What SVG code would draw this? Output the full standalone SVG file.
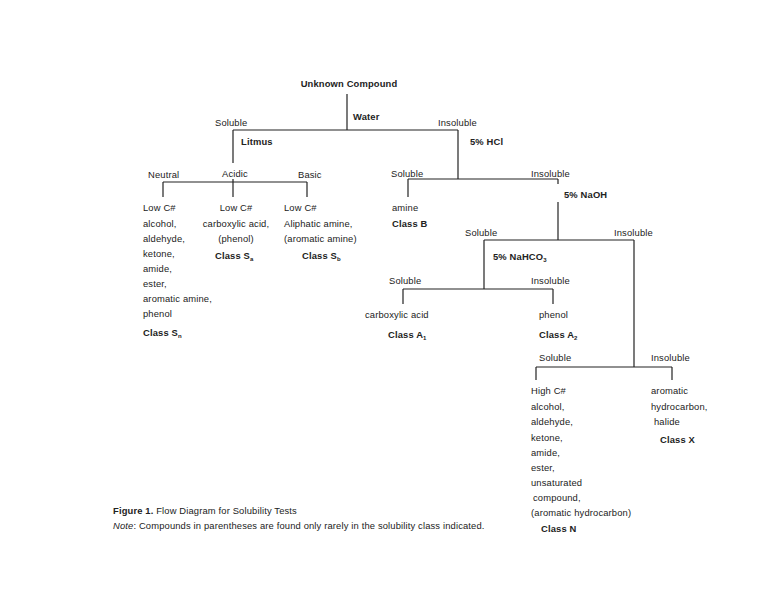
<svg xmlns="http://www.w3.org/2000/svg" width="768" height="594" viewBox="0 0 768 594">
<style>
text{font-family:"Liberation Sans",Arial,sans-serif;font-size:9.4px;fill:#222;letter-spacing:0.15px}
.b{font-weight:bold}
.c{text-anchor:middle}
line{stroke:#222;stroke-width:1.2}
</style>
<rect width="768" height="594" fill="#fff"/>
<g id="connectors">
<line x1="347" y1="94" x2="347" y2="130"/>
<line x1="233" y1="130" x2="458" y2="130"/>
<line x1="233" y1="130" x2="233" y2="163"/>
<line x1="233" y1="179" x2="233" y2="197"/>
<line x1="163" y1="182" x2="307" y2="182"/>
<line x1="163" y1="182" x2="163" y2="197"/>
<line x1="307" y1="182" x2="307" y2="197"/>
<line x1="458" y1="130" x2="458" y2="179"/>
<line x1="408" y1="179" x2="558" y2="179"/>
<line x1="408" y1="179" x2="408" y2="197"/>
<line x1="558" y1="179" x2="558" y2="184"/>
<line x1="558" y1="202" x2="558" y2="240"/>
<line x1="484" y1="240" x2="634" y2="240"/>
<line x1="484" y1="240" x2="484" y2="289"/>
<line x1="403" y1="289" x2="553" y2="289"/>
<line x1="403" y1="289" x2="403" y2="304"/>
<line x1="553" y1="289" x2="553" y2="304"/>
<line x1="634" y1="240" x2="634" y2="367"/>
<line x1="536" y1="367" x2="672" y2="367"/>
<line x1="536" y1="367" x2="536" y2="380"/>
<line x1="672" y1="367" x2="672" y2="380"/>
</g>
<g id="root"><text class="b c" x="349" y="87">Unknown Compound</text></g>
<g id="labels">
<text class="b" x="353" y="120">Water</text>
<text x="215" y="126">Soluble</text>
<text x="438" y="126">Insoluble</text>
<text class="b" x="241" y="145">Litmus</text>
<text class="b" x="470" y="145">5% HCl</text>
<text x="148" y="178">Neutral</text>
<text x="222" y="177">Acidic</text>
<text x="298" y="178">Basic</text>
<text x="391" y="177">Soluble</text>
<text x="531" y="177">Insoluble</text>
<text class="b" x="564" y="198">5% NaOH</text>
<text x="465" y="236">Soluble</text>
<text x="614" y="236">Insoluble</text>
<text class="b" x="493" y="260">5% NaHCO<tspan font-size="6" dy="2">3</tspan></text>
<text x="389" y="284">Soluble</text>
<text x="531" y="284">Insoluble</text>
<text x="539" y="361">Soluble</text>
<text x="651" y="361">Insoluble</text>
</g>
<g id="class-sn">
<text x="143" y="211">Low C#</text><text x="143" y="227">alcohol,</text><text x="143" y="242">aldehyde,</text><text x="143" y="257">ketone,</text><text x="143" y="272">amide,</text><text x="143" y="287">ester,</text><text x="143" y="302">aromatic amine,</text><text x="143" y="317">phenol</text>
<text class="b" x="143" y="336">Class S<tspan font-size="6" dy="2">n</tspan></text>
</g>
<g id="class-sa">
<text class="c" x="236" y="211">Low C#</text><text class="c" x="236" y="227">carboxylic acid,</text><text class="c" x="236" y="242">(phenol)</text>
<text class="b" x="215" y="259">Class S<tspan font-size="6" dy="2">a</tspan></text>
</g>
<g id="class-sb">
<text x="284" y="211">Low C#</text><text x="284" y="227">Aliphatic amine,</text><text x="284" y="242">(aromatic amine)</text>
<text class="b" x="302" y="259">Class S<tspan font-size="6" dy="2">b</tspan></text>
</g>
<g id="class-b"><text x="392" y="211">amine</text><text class="b" x="392" y="227">Class B</text></g>
<g id="class-a1"><text x="365" y="318">carboxylic acid</text><text class="b" x="388" y="338">Class A<tspan font-size="6" dy="2">1</tspan></text></g>
<g id="class-a2"><text x="539" y="318">phenol</text><text class="b" x="539" y="338">Class A<tspan font-size="6" dy="2">2</tspan></text></g>
<g id="class-n">
<text x="531" y="394">High C#</text><text x="531" y="410">alcohol,</text><text x="531" y="425">aldehyde,</text><text x="531" y="441">ketone,</text><text x="531" y="456">amide,</text><text x="531" y="471">ester,</text><text x="531" y="486">unsaturated</text><text x="533" y="501">compound,</text><text x="531" y="516">(aromatic hydrocarbon)</text>
<text class="b" x="541" y="532">Class N</text>
</g>
<g id="class-x">
<text x="651" y="394">aromatic</text><text x="651" y="410">hydrocarbon,</text><text x="654" y="425">halide</text>
<text class="b" x="660" y="443">Class X</text>
</g>
<g id="caption">
<text x="113" y="514"><tspan class="b">Figure 1.</tspan> Flow Diagram for Solubility Tests</text>
<text x="113" y="529"><tspan font-style="italic">Note</tspan>: Compounds in parentheses are found only rarely in the solubility class indicated.</text>
</g>
</svg>
